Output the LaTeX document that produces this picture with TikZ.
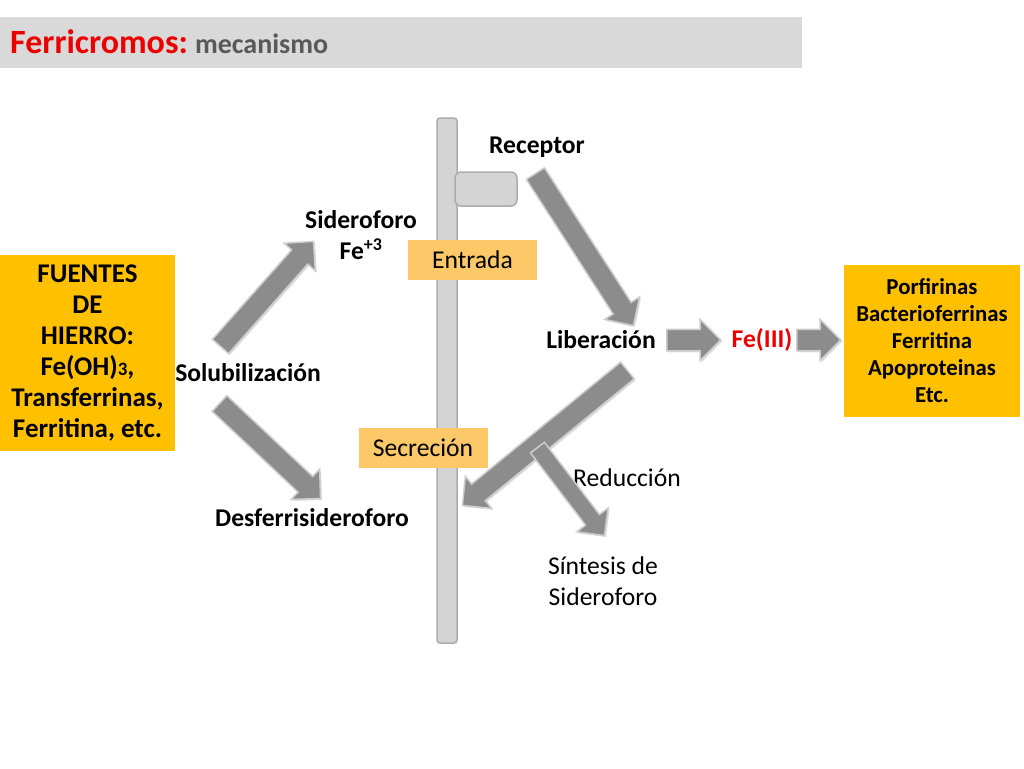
\documentclass[tikz,border=0pt]{standalone}
\usepackage{fontspec}
\setmainfont{Carlito}
\usetikzlibrary{calc,shapes.arrows,shadows}
\definecolor{amarillo}{RGB}{255,192,0}
\definecolor{naranja}{RGB}{252,200,104}
\definecolor{grisbarra}{RGB}{217,217,217}
\definecolor{grisflecha}{RGB}{140,140,140}
\definecolor{bordeflecha}{RGB}{205,205,205}
\definecolor{grismembrana}{RGB}{212,212,212}
\definecolor{bordemembrana}{RGB}{172,172,172}
\definecolor{rojo}{RGB}{235,0,0}
\definecolor{grisletra}{RGB}{89,89,89}
\tikzset{
  etiqueta/.style={font=\bfseries\fontsize{25.6}{31}\selectfont, inner sep=0pt, align=center},
  texto/.style={font=\fontsize{25.6}{31}\selectfont, inner sep=0pt, align=center},
  caja/.style={fill=amarillo, inner sep=0pt, align=center},
  rotulo/.style={fill=naranja, minimum width=129pt, minimum height=40pt, inner sep=0pt, font=\fontsize{25.6}{31}\selectfont},
  flecha/.style={single arrow, single arrow head extend=10pt, single arrow tip angle=90,
    inner xsep=0pt, inner ysep=10pt, minimum width=0pt, anchor=tail,
    fill=grisflecha, draw=bordeflecha, line width=1.5pt,
    drop shadow={opacity=0.25, shadow xshift=1.5pt, shadow yshift=-1.5pt}}
}
\newcommand{\flechagorda}[3][]{%
  \path let \p1=($(#3)-(#2)$), \n1={veclen(\x1,\y1)}, \n2={atan2(\y1,\x1)} in
    node[flecha, minimum height=\n1, rotate=\n2, #1] at (#2) {};}
\begin{document}
\begin{tikzpicture}[x=1pt,y=-1pt]
\useasboundingbox (0,0) rectangle (1024,768);
\node[fill=grisbarra, minimum width=802pt, minimum height=51pt, inner sep=0pt] (barra) at (401,42.5) {};
\node[anchor=base west, inner sep=0pt] (titulo) at (10,53)
  {{\color{rojo}\fontsize{34}{40}\selectfont\bfseries Ferricromos:}\hspace{4pt} {\color{grisletra}\fontsize{28}{34}\selectfont\bfseries mecanismo}};

\node[caja, minimum width=175pt, minimum height=196pt, font=\bfseries\fontsize{27}{31}\selectfont] (fuentes) at (87.5,353)
  {FUENTES\\DE\\HIERRO:\\Fe(OH){\fontsize{19}{19}\selectfont 3},\\Transferrinas,\\Ferritina, etc.};
\node[caja, minimum width=176pt, minimum height=152pt, font=\bfseries\fontsize{22.8}{27}\selectfont] (destinos) at (932,341)
  {Porfirinas\\Bacterioferrinas\\Ferritina\\Apoproteinas\\Etc.};

\node[fill=grismembrana, draw=bordemembrana, line width=1.5pt, rounded corners=3pt, minimum width=20pt, minimum height=525pt, inner sep=0pt] (membrana) at (447,380.5) {};
\node[fill=grismembrana, draw=bordemembrana, line width=1.5pt, rounded corners=6pt, minimum width=62pt, minimum height=34pt, inner sep=0pt] (receptor) at (486,189) {};
\node[rotulo] (entrada) at (472.5,260) {Entrada};
\node[rotulo] (secrecion) at (423,448) {Secreción};

\node[etiqueta] (receptortxt) at (537,147) {Receptor};
\node[etiqueta] (sideroforo) at (361,235) {Sideroforo\\Fe\textsuperscript{+3}};
\node[etiqueta] (solub) at (248,373) {Solubilización};
\node[etiqueta] (desferri) at (312,518) {Desferrisideroforo};
\node[etiqueta] (liberacion) at (601,340) {Liberación};
\node[etiqueta, text=rojo] (fe) at (762,340) {Fe(III)};
\node[texto] (reduccion) at (627,478) {Reducción};
\node[texto] (sintesis) at (603,581) {Síntesis de\\Sideroforo};

\coordinate (s1) at (220,347); \coordinate (s2) at (313,242);
\coordinate (d1) at (219,403); \coordinate (d2) at (320,498);
\coordinate (r1) at (535,173); \coordinate (r2) at (633,325);
\coordinate (l1) at (666,340); \coordinate (l2) at (720,340);
\coordinate (f1) at (796,340); \coordinate (f2) at (840,340);
\coordinate (b1) at (628,370); \coordinate (b2) at (463,505);
\coordinate (c1) at (537,447); \coordinate (c2) at (604,535);
\flechagorda{s1}{s2}
\flechagorda{d1}{d2}
\flechagorda{r1}{r2}
\flechagorda{l1}{l2}
\flechagorda{f1}{f2}
\flechagorda{b1}{b2}
\flechagorda[inner ysep=8pt, single arrow head extend=11pt]{c1}{c2}
\end{tikzpicture}
\end{document}
